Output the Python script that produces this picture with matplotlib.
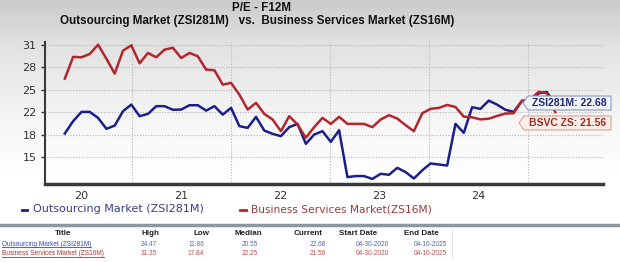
import numpy as np
import pandas as pd
import matplotlib
matplotlib.use('Agg')
import matplotlib.pyplot as plt
import matplotlib.dates as mdates
from matplotlib.patches import Polygon
from matplotlib.lines import Line2D

# ---------------- data ----------------
dates = pd.date_range('2020-04-30', '2025-04-10', periods=60)
outsourcing = [18.45, 20.24, 21.59, 21.59, 20.72, 19.13, 19.60, 21.69, 22.65, 20.97,
               21.30, 22.42, 22.42, 21.90, 21.93, 22.56, 22.56, 21.78, 22.42, 21.20,
               22.17, 19.52, 19.27, 20.87, 18.88, 18.40, 18.07, 19.37, 19.85, 16.95,
               18.30, 18.79, 17.24, 18.93, 12.12, 12.27, 12.27, 11.86, 12.60, 12.46,
               13.47, 12.85, 11.92, 13.10, 14.10, 13.95, 13.80, 19.85, 18.55, 22.27,
               22.03, 23.23, 22.65, 21.90, 21.60, 23.20, 22.90, 24.30, 24.47, 22.68]
business = [26.42, 29.57, 29.52, 30.00, 31.35, 29.32, 27.15, 30.48, 31.26, 28.65,
            30.15, 29.52, 30.63, 30.90, 29.42, 30.15, 29.67, 27.73, 27.64, 25.55,
            25.80, 24.10, 21.93, 22.90, 21.30, 20.48, 18.79, 20.97, 19.75, 17.84,
            19.37, 20.72, 19.85, 20.87, 19.85, 19.85, 19.85, 19.37, 20.48, 21.11,
            20.62, 19.66, 18.79, 21.40, 22.03, 22.17, 22.60, 22.30, 20.90, 20.80,
            20.50, 20.60, 21.00, 21.35, 21.40, 23.20, 23.40, 24.50, 24.30, 21.56]

ytick_values = [15.0, 18.27, 21.54, 24.81, 28.08, 31.35]
ytick_labels = ['15', '18', '22', '25', '28', '31']
year_labels = ['20', '21', '22', '23', '24']
year_label_dates = pd.to_datetime(['2020-07-01', '2021-07-01', '2022-07-01', '2023-07-01', '2024-07-01'])
year_grid_dates = pd.to_datetime(['2021-01-01', '2022-01-01', '2023-01-01', '2024-01-01', '2025-01-01'])

series_names = ['Outsourcing Market (ZSI281M)', 'Business Services Market (ZS16M)']
legend_names = ['Outsourcing Market (ZSI281M)', 'Business Services Market(ZS16M)']
tag_texts = ['ZSI281M: 22.68', 'BSVC ZS: 21.56']
table_header = ['Title', 'High', 'Low', 'Median', 'Current', 'Start Date', 'End Date']
table_rows = [['24.47', '11.86', '20.55', '22.68', '04-30-2020', '04-10-2025'],
              ['31.35', '17.84', '22.25', '21.56', '04-30-2020', '04-10-2025']]

BLUE = '#1c1f8a'
RED = '#b3262c'
W, H = 620, 262

def fx(px):
    return px / W

def fy(py):
    return 1 - py / H

fig = plt.figure(figsize=(6.2, 2.62), dpi=100)

# background gradient
bg = fig.add_axes([0, 0, 1, 1], zorder=-10)
rows = np.arange(H)
vals = np.interp(rows, [0, 45, 120, 175, 262], [0.80, 0.885, 0.965, 1.0, 1.0])
img = np.repeat(vals[:, None], 2, axis=1)
bg.imshow(np.dstack([img, img, img]), aspect='auto', extent=[0, 1, 0, 1])
bg.set_axis_off()

# main axes
ax = fig.add_axes([fx(45), fy(184), 558 / W, 142 / H])
ax.patch.set_alpha(0)
ax.plot(dates, outsourcing, color=BLUE, lw=1.8, solid_joinstyle='round')
ax.plot(dates, business, color=RED, lw=1.8, solid_joinstyle='round')

x0 = mdates.date2num(pd.Timestamp('2020-02-17'))
x1 = mdates.date2num(pd.Timestamp('2025-10-03'))
ax.set_xlim(x0, x1)
ax.set_ylim(11.12, 31.74)

ax.set_yticks(ytick_values)
ax.set_yticklabels(ytick_labels)
ax.set_xticks(mdates.date2num(year_label_dates))
ax.set_xticklabels(year_labels)
ax.tick_params(axis='y', length=3, width=1, color='#333333', labelsize=8, labelcolor='#333333', pad=3)
ax.tick_params(axis='x', length=0, labelsize=8, labelcolor='#333333', pad=5)

for s in ['top', 'right']:
    ax.spines[s].set_visible(False)
ax.spines['left'].set_color('#3a3a3a')
ax.spines['left'].set_linewidth(1.5)
ax.spines['bottom'].set_color('#3a3a3a')
ax.spines['bottom'].set_linewidth(2.5)

ax.grid(axis='y', color='#b5b5b5', linestyle=(0, (1, 1.5)), lw=0.8)
for d in year_grid_dates:
    ax.axvline(mdates.date2num(d), color='#b5b5b5', linestyle=(0, (1, 1.5)), lw=0.8, zorder=0)

# titles
tfam = ['Liberation Sans']
fig.text(fx(261), fy(11.2), 'P/E - F12M', ha='center', va='baseline', fontsize=8.4,
         weight='bold', family=tfam, color='#111111')
fig.text(fx(257.5), fy(24.2), 'Outsourcing Market (ZSI281M)   vs.  Business Services Market (ZS16M)',
         ha='center', va='baseline', fontsize=8.4, weight='bold', family=tfam, color='#111111')

# end tags
def tag(tip, left, right, top, bottom, fc, ec):
    pts = [(fx(tip[0]), fy(tip[1])), (fx(left), fy(top)), (fx(right), fy(top)),
           (fx(right), fy(bottom)), (fx(left), fy(bottom))]
    fig.add_artist(Polygon(pts, closed=True, facecolor=fc, edgecolor=ec, lw=0.8,
                           transform=fig.transFigure))

tag((523, 103), 528, 611, 96, 110, '#f3f5fb', '#8c97c6')
tag((519, 123), 524, 611, 116, 130, '#fbeee9', '#d8a394')
fig.text(fx(532), fy(103.5), tag_texts[0], ha='left', va='center', fontsize=7.5,
         weight='bold', family=['Liberation Sans'], color='#1e2a78')
fig.text(fx(529), fy(123.5), tag_texts[1], ha='left', va='center', fontsize=7.5,
         weight='bold', family=['Liberation Sans'], color='#9a2d20')

# legend
fig.add_artist(Line2D([fx(22), fx(27)], [fy(210)] * 2, color=BLUE, lw=2, transform=fig.transFigure))
fig.text(fx(33), fy(209.5), legend_names[0], ha='left', va='center', fontsize=8,
         color='#3a3f88')
fig.add_artist(Line2D([fx(240), fx(246)], [fy(210)] * 2, color=RED, lw=2, transform=fig.transFigure))
fig.text(fx(251), fy(209.5), legend_names[1], ha='left', va='center', fontsize=7.7,
         color='#9a3a3a')

# separator
fig.add_artist(Line2D([0, 1], [fy(225)] * 2, color='#8b98a3', lw=2.5, transform=fig.transFigure))

# table
sfam = ['Liberation Sans']
hdr_x = [63, 150, 202, 248, 308, 358, 421]
for t, xx in zip(table_header, hdr_x):
    fig.text(fx(xx), fy(233.5), t, ha='center', va='center', fontsize=5.8, weight='bold',
             color='#222222', family=sfam)
val_right = [157, 204, 258, 326, 389, 447]
row_y = [244, 253.5]
row_colors = ['#3a48a8', '#b03030']
fig.canvas.draw()
for name, vals_row, ry, c in zip(series_names, table_rows, row_y, row_colors):
    t = fig.text(fx(2), fy(ry), name, ha='left', va='center', fontsize=4.7, color=c,
                 family=sfam)
    for v, xr in zip(vals_row, val_right):
        fig.text(fx(xr), fy(ry), v, ha='right', va='center', fontsize=4.7, color=c, alpha=0.85,
                 family=sfam)
    bb = t.get_window_extent(renderer=fig.canvas.get_renderer())
    fig.add_artist(Line2D([bb.x0 / W, bb.x1 / W], [(bb.y0 + 0.3) / H] * 2, color=c, lw=0.6,
                          transform=fig.transFigure))
fig.add_artist(Line2D([fx(451.5)] * 2, [fy(228), fy(258)], color='#dddddd', lw=0.6,
                      transform=fig.transFigure))

fig.savefig('out.png', dpi=100)
